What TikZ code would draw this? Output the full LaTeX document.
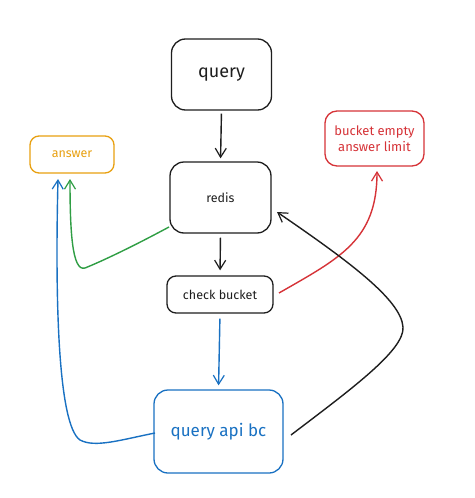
\documentclass[tikz,border=0pt]{standalone}
\usepackage{fontspec}
\setmainfont{Fira Sans}
\usetikzlibrary{arrows.meta}
\definecolor{exblack}{HTML}{1E1E1E}
\definecolor{exorange}{HTML}{E8A010}
\definecolor{exred}{HTML}{D63338}
\definecolor{exgreen}{HTML}{2F9E44}
\definecolor{exblue}{HTML}{1971C2}
\tikzset{
  box/.style={draw, line width=1.3pt, rounded corners=14pt, inner sep=0pt, align=center},
  conn/.style={line width=1.4pt, -{Straight Barb[length=9pt,width=11pt,line width=1.2pt]}},
}
\begin{document}
\begin{tikzpicture}[x=1pt,y=-1pt]
\path[use as bounding box, fill=white] (0,0) rectangle (474,498);
\node[box, exblack, minimum width=100pt, minimum height=71pt, font=\fontsize{18}{20}\selectfont] (query) at (221.5,74.5) {query};
\node[box, exblack, minimum width=101pt, minimum height=71pt, font=\fontsize{12.5}{14}\selectfont] (redis) at (220.5,197.5) {redis};
\node[box, exblack, rounded corners=9pt, minimum width=106pt, minimum height=37pt, font=\fontsize{12.5}{14}\selectfont] (check) at (220,294.5) {check bucket};
\node[box, exblue, minimum width=129pt, minimum height=83pt, font=\fontsize{17}{19}\selectfont] (api) at (218.5,431.5) {query api bc};
\node[box, exorange, rounded corners=9pt, minimum width=84pt, minimum height=37pt, font=\fontsize{12.5}{14}\selectfont] (answer) at (72,154.5) {answer};
\node[box, exred, rounded corners=12pt, minimum width=99pt, minimum height=55pt, font=\fontsize{13}{16}\selectfont] (bucket) at (374.5,138.5) {bucket empty\\answer limit};
% free ends
\coordinate (g0) at (169,227);
\coordinate (b0) at (155,433);
\coordinate (r0) at (279,293);
\coordinate (k0) at (291,435);
\coordinate (greenend) at (70,179);
\coordinate (blueend) at (58,179);
\coordinate (redend) at (377,171);
\coordinate (blackend) at (277,212);
% connectors
\draw[conn, exblack, shorten <=3pt, shorten >=3pt] (query.south) -- (redis.north);
\draw[conn, exblack, shorten <=4pt, shorten >=5pt] (redis.south) -- (check.north);
\draw[conn, exblue, shorten <=5pt, shorten >=4pt] (check.south) -- (api.north);
\draw[conn, exgreen] (g0) .. controls (130,248) and (100,262) .. (85,268) .. controls (72,272) and (70,230) .. (greenend);
\draw[conn, exblue] (b0) .. controls (120,440) and (95,448) .. (80,440) .. controls (58,425) and (55,300) .. (blueend);
\draw[conn, exred] (r0) .. controls (340,258) and (377,240) .. (redend);
\draw[conn, exblack] (k0) .. controls (350,390) and (405,350) .. (403,327) .. controls (401,300) and (350,262) .. (blackend);
\end{tikzpicture}
\end{document}
